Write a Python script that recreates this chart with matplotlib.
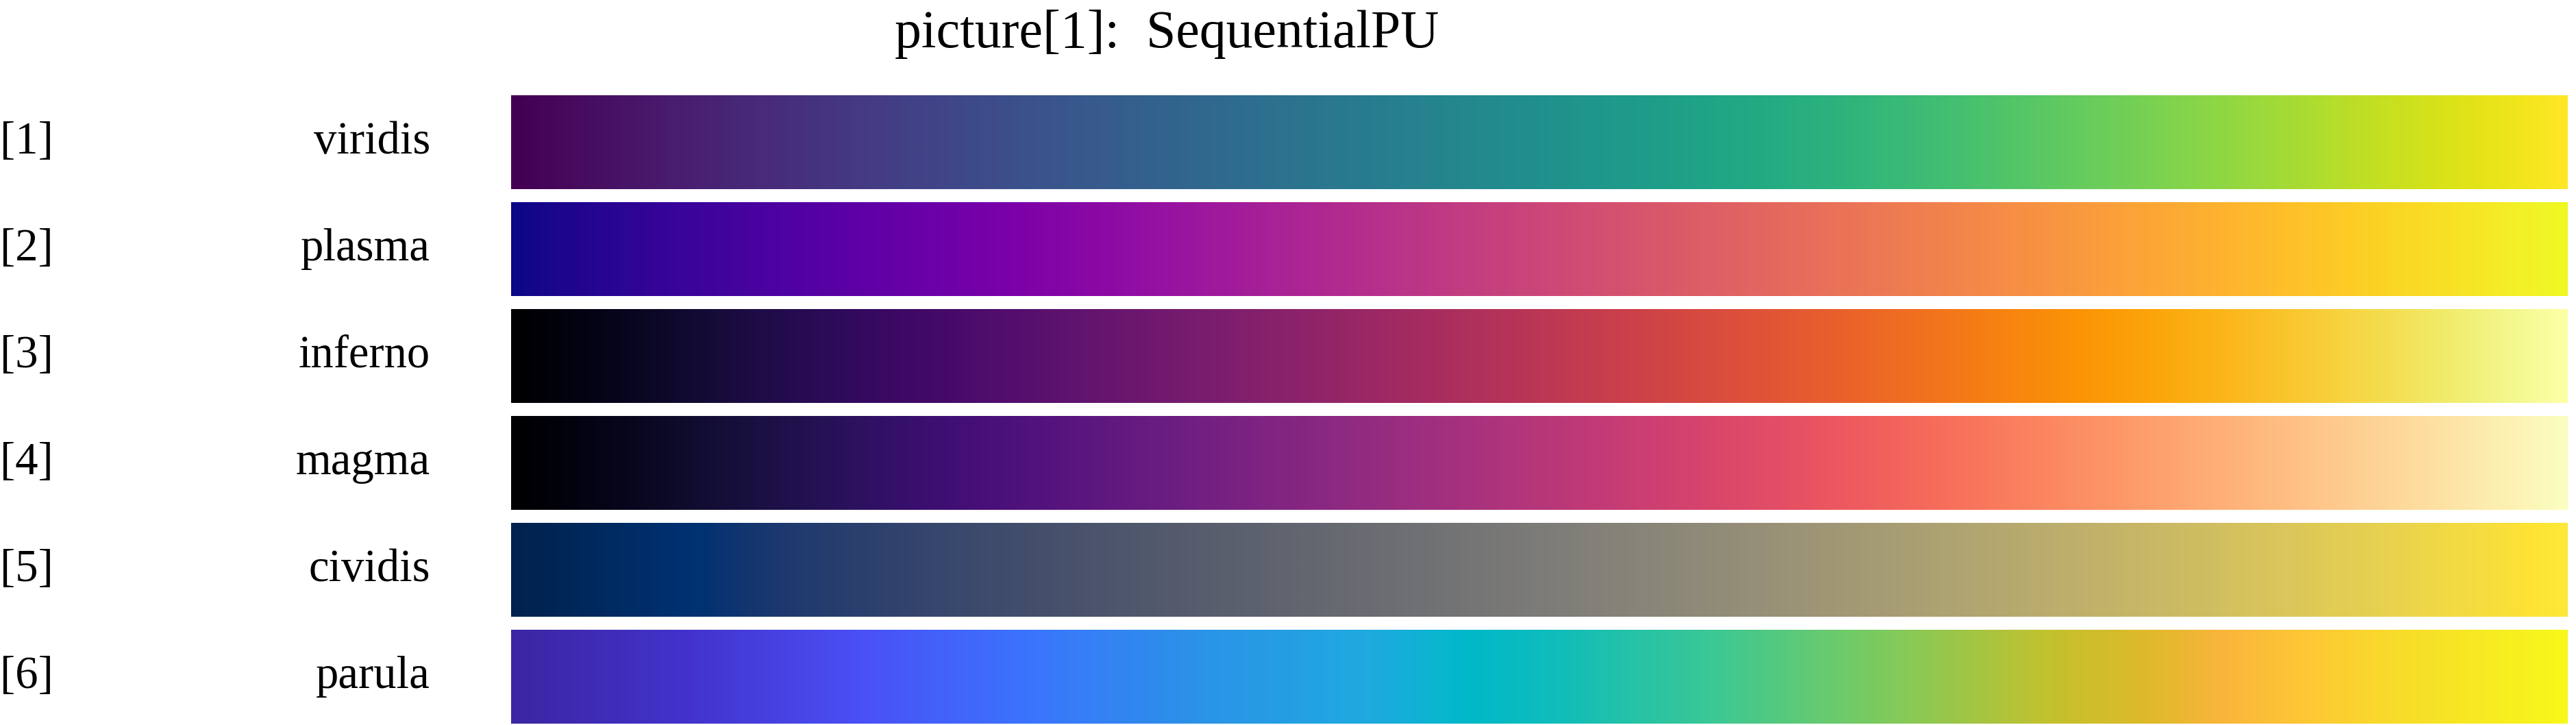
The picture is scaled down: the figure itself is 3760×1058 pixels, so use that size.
import numpy as np
import matplotlib.pyplot as plt
from matplotlib.colors import LinearSegmentedColormap

#%% datos
titulo = 'picture[1]:  SequentialPU'
etiquetas = ['[1]', '[2]', '[3]', '[4]', '[5]', '[6]']
nombres = ['viridis', 'plasma', 'inferno', 'magma', 'cividis', 'parula']

# parula: colores (posicion, color)
parula_pos = [0.00, 0.083, 0.167, 0.25, 0.333, 0.417, 0.467, 0.50, 0.583, 0.667, 0.75, 0.80, 0.833, 0.875, 0.92, 1.00]
parula_col = ['#3c26a4', '#4333cc', '#4a50f5', '#3b74fd', '#2b93e8', '#1eaadf', '#00b9c8', '#0cbcbe',
              '#3ac895', '#7ccb5e', '#c3c12e', '#e0b92a', '#f9b53c', '#fec735', '#f8dc2a', '#f7f71a']
parula = LinearSegmentedColormap.from_list('parula', list(zip(parula_pos, parula_col)), N=256)

cmaps = {'parula': parula}

#%% figura
W, H = 3760, 1058
fig = plt.figure(figsize=(W/100, H/100), dpi=100)
plt.rcParams['font.family'] = ['Liberation Serif', 'DejaVu Serif']

x0, x1 = 746, 3748
top0, alto, paso = 139, 137, 156
grad = np.linspace(0, 1, 256).reshape(1, -1)

for i, (et, nom) in enumerate(zip(etiquetas, nombres)):
    top = top0 + i*paso
    ax = fig.add_axes([x0/W, 1-(top+alto)/H, (x1-x0)/W, alto/H])
    ax.imshow(grad, aspect='auto', cmap=cmaps.get(nom, nom), interpolation='bilinear')
    ax.set_axis_off()
    yc = 1-(top+alto/2)/H
    fig.text(0/W, yc, et, ha='left', va='center', fontsize=48)
    fig.text(628/W, yc, nom, ha='right', va='center', fontsize=48)

fig.text(1703/W, 1-50/H, titulo, ha='center', va='center', fontsize=56)

fig.savefig('out.png', dpi=100)
